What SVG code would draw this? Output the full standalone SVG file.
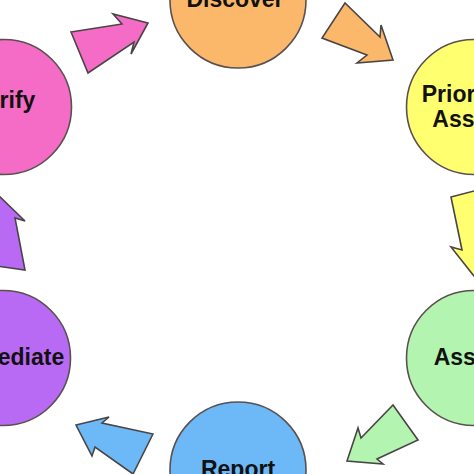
<svg xmlns="http://www.w3.org/2000/svg" width="474" height="474" viewBox="0 0 474 474">
<style>
.n{stroke:#5a5050;stroke-width:1.6}
.a{stroke:#4a4545;stroke-width:1.6;stroke-linejoin:miter}
.t{font-family:"Liberation Sans",Arial,sans-serif;font-weight:bold;font-size:23px;fill:#111;text-anchor:middle}
</style>
<rect width="474" height="474" fill="#fff"/>
<g id="connectors">
<polygon class="a" fill="#f56cc6" points="71,32 122,24 113,14 148,23 131,54 134,42 88,73"/>
<polygon class="a" fill="#fbb86b" points="345,3 322,38 367,55 357,63 393,60 381,25 380,37"/>
<polygon class="a" fill="#ffff70" points="451,197 478,190 482,280 474,276 451,247 462,250"/>
<polygon class="a" fill="#b96af5" points="-4,193 25,221 15,218 25,270 -4,266"/>
<polygon class="a" fill="#b3f5b0" points="393,405 418,440 377,459 383,464 347,461 358,428 361,438"/>
<polygon class="a" fill="#6db8f7" points="153,434 133,474 95,447 92,456 76,425 109,417 102,423"/>
</g>
<g id="discover"><circle class="n" cx="238" cy="0" r="68" fill="#fbb86b"/><text class="t" x="235" y="7">Discover</text></g>
<g id="prioritize"><circle class="n" cx="474" cy="107" r="67.5" fill="#ffff70"/><text class="t" x="471" y="102">Prioritize</text><text class="t" x="470" y="127">Assets</text></g>
<g id="assess"><circle class="n" cx="474" cy="358" r="67.5" fill="#b3f5b0"/><text class="t" x="474" y="365">Assess</text></g>
<g id="report"><circle class="n" cx="238" cy="470" r="68" fill="#6db8f7"/><text class="t" x="238" y="477">Report</text></g>
<g id="remediate"><circle class="n" cx="3" cy="358" r="67.5" fill="#b96af5"/><text class="t" x="6" y="365">Remediate</text></g>
<g id="verify"><circle class="n" cx="4" cy="107" r="67.5" fill="#f56cc6"/><text class="t" x="4" y="108">Verify</text></g>
</svg>
